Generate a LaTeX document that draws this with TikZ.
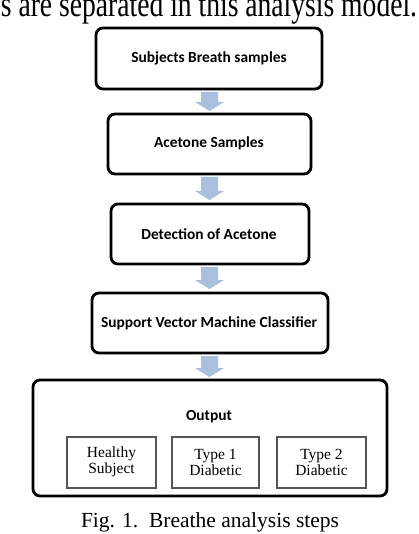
\documentclass[tikz,border=0pt]{standalone}
\usepackage{fontspec}
\setmainfont{Liberation Serif}
\newfontfamily\boxfont{Carlito}
\usetikzlibrary{shapes.arrows}
\definecolor{arrowblue}{RGB}{168,192,222}
\definecolor{innergray}{RGB}{85,85,85}
\tikzset{
  stepbox/.style={draw=black, line width=2.8pt, rounded corners=7pt, fill=white, inner sep=0pt},
  steptext/.style={font=\boxfont\bfseries\fontsize{15.4}{18}\selectfont},
  innerbox/.style={draw=innergray, line width=1.8pt, fill=white, inner sep=0pt},
  innertext/.style={font=\fontsize{15.5}{16}\selectfont, align=center, text=black},
  blockarrow/.style={fill=arrowblue, draw=none}
}
\begin{document}
\begin{tikzpicture}[x=1pt,y=-1pt]
\useasboundingbox (0,0) rectangle (418,534);
% top cut-off text
\node[anchor=base, font=\fontsize{27.6}{30}\selectfont, inner sep=0pt] (toptext) at (209,17) {\scalebox{1}[1.3]{s are separated in this analysis model.}};
% boxes
\draw[stepbox] (96,28) rectangle (322,89);
\node[steptext] (b1) at (209,58) {Subjects Breath samples};
\draw[stepbox] (108,114) rectangle (311,174);
\node[steptext] (b2) at (209,143) {Acetone Samples};
\draw[stepbox] (111,204) rectangle (309,264);
\node[steptext] (b3) at (209,234) {Detection of Acetone};
\draw[stepbox] (92,293) rectangle (328,353);
\node[steptext] (b4) at (209,323) {Support Vector Machine Classifier};
\draw[stepbox] (33,380) rectangle (387,496);
\node[steptext] (b5) at (209,417) {Output};
% inner boxes
\draw[innerbox] (67,437) rectangle (156,488);
\node[innertext] (h) at (111.5,462) {Healthy\\Subject};
\draw[innerbox] (172,437) rectangle (259,488);
\node[innertext] (t1) at (215.5,462) {Type 1\\Diabetic};
\draw[innerbox] (277,437) rectangle (366,488);
\node[innertext] (t2) at (321.5,462) {Type 2\\Diabetic};
% arrows
\foreach \ya/\yb in {92/111, 177/200, 267/289, 356/377}{
  \fill[blockarrow] (201,\ya) -- (218,\ya) -- (218,{\yb-9}) -- (224,{\yb-9}) -- (209.5,\yb) -- (195,{\yb-9}) -- (201,{\yb-9}) -- cycle;
}
% caption
\node[anchor=base, font=\fontsize{21.5}{24}\selectfont, inner sep=0pt] (cap) at (210,527) {Fig. 1.\ \ Breathe analysis steps};
\end{tikzpicture}
\end{document}
